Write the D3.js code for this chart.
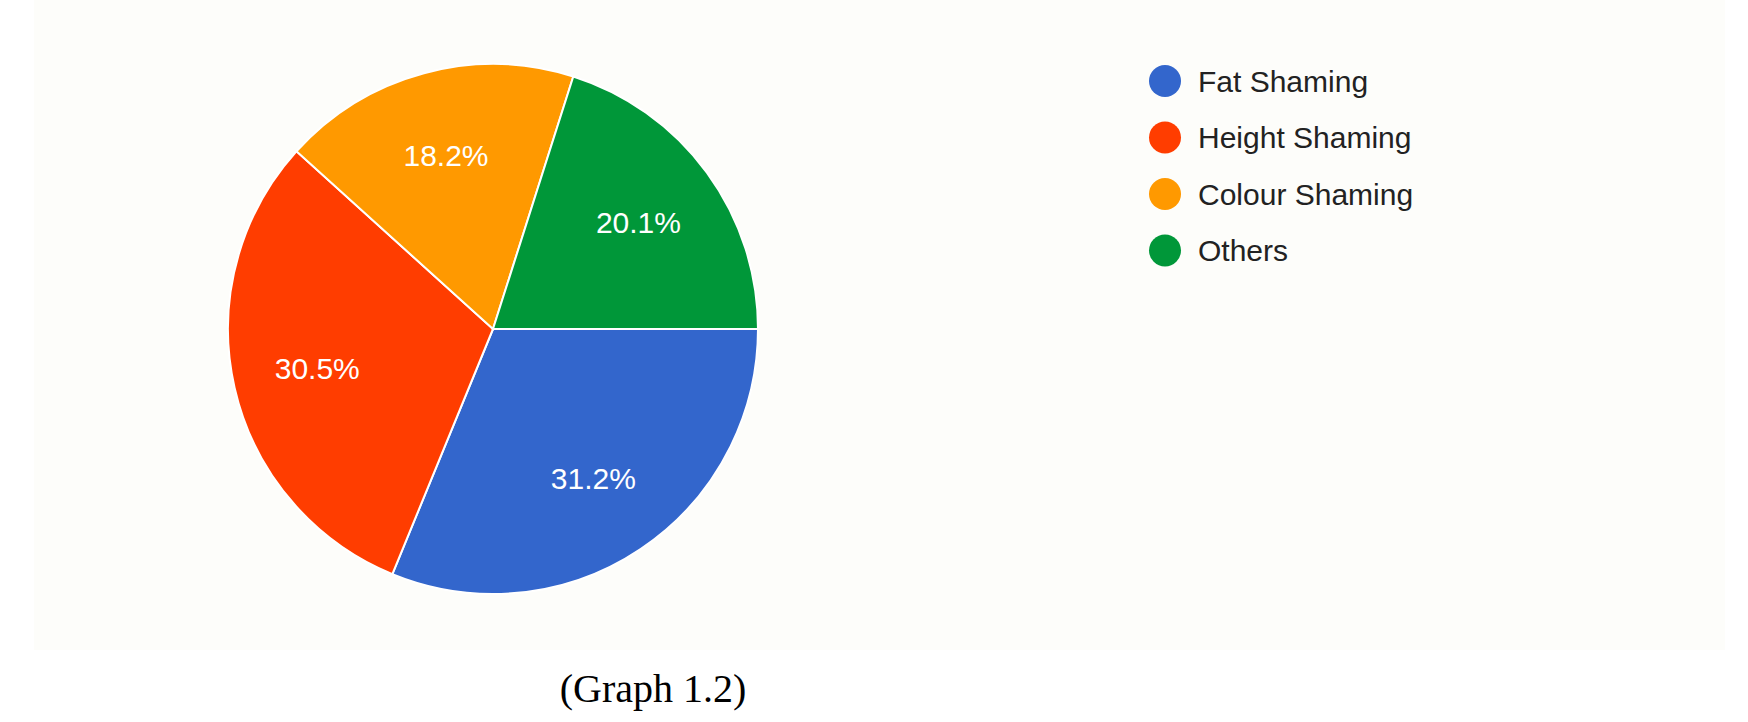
<!DOCTYPE html>
<html>
<head>
<meta charset="utf-8">
<script src="https://cdn.jsdelivr.net/npm/d3@7"></script>
<style>
  body { margin: 0; background: #ffffff; }
</style>
</head>
<body>
<script>
        var w = 1748;
        var h = 722;

        var categories = ["Fat Shaming", "Height Shaming", "Colour Shaming", "Others"];
        var values = [31.2, 30.5, 18.2, 20.1];
        var colors = ["#3366cc", "#ff3d00", "#ff9900", "#009739"];

        var svg = d3.select("body")
                    .append("svg")
                    .attr("width", w)
                    .attr("height", h);

        // off-white panel behind the chart
        svg.append("rect")
            .attr("x", 34).attr("y", 0)
            .attr("width", 1691).attr("height", 650)
            .attr("fill", "#fdfdfa");

        var cx = 493, cy = 329, r = 265;

        var pie = d3.pie()
                    .sort(null)
                    .startAngle(Math.PI / 2)
                    .endAngle(Math.PI / 2 + 2 * Math.PI);

        var arc = d3.arc().innerRadius(0).outerRadius(r);
        var labelArc = d3.arc().innerRadius(r * 0.68).outerRadius(r * 0.68);

        var g = svg.append("g").attr("transform", "translate(" + cx + "," + cy + ")");

        var arcs = pie(values);

        g.selectAll("path")
            .data(arcs)
            .enter()
            .append("path")
            .attr("d", arc)
            .attr("fill", function(d, i) { return colors[i]; })
            .attr("stroke", "#ffffff")
            .attr("stroke-width", 2);

        g.selectAll("text")
            .data(arcs)
            .enter()
            .append("text")
            .attr("transform", function(d) { return "translate(" + labelArc.centroid(d) + ")"; })
            .attr("text-anchor", "middle")
            .attr("dy", "0.35em")
            .attr("fill", "#ffffff")
            .style("font-family", "Liberation Sans, Arial, sans-serif")
            .style("font-size", "30px")
            .text(function(d) { return d.value.toFixed(1) + "%"; });

        // legend
        var legend = svg.selectAll(".legend")
                        .data(categories)
                        .enter()
                        .append("g")
                        .attr("class", "legend")
                        .attr("transform", function(d, i) { return "translate(1165," + (81 + i * 56.5) + ")"; });

        legend.append("circle")
            .attr("r", 16)
            .attr("fill", function(d, i) { return colors[i]; });

        legend.append("text")
            .attr("x", 33)
            .attr("dy", "0.35em")
            .attr("fill", "#222222")
            .style("font-family", "Liberation Sans, Arial, sans-serif")
            .style("font-size", "30px")
            .text(function(d) { return d; });

        // caption
        svg.append("text")
            .attr("x", 653).attr("y", 702)
            .attr("text-anchor", "middle")
            .attr("fill", "#000000")
            .style("font-family", "Liberation Serif, DejaVu Serif, serif")
            .style("font-size", "40px")
            .text("(Graph 1.2)");
</script>
</body>
</html>
